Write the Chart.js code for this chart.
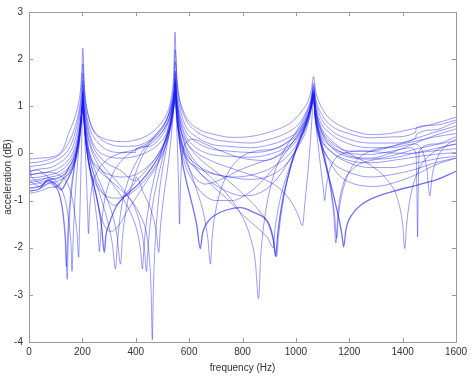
<!DOCTYPE html>
<html>
<head>
<meta charset="utf-8">
<script src="https://cdn.jsdelivr.net/npm/chart.js@4.4.1/dist/chart.umd.min.js"></script>
<style>
  body { margin: 0; background: #fff; }
  #wrap { width: 474px; height: 379px; }
</style>
</head>
<body>
<div id="wrap"><canvas id="myChart" width="474" height="379"></canvas></div>
<script>
// axis ticks
const freqTicks = [0, 200, 400, 600, 800, 1000, 1200, 1400, 1600]
const dbTicks = [-4, -3, -2, -1, 0, 1, 2, 3]

// measured curves, [frequency (Hz), acceleration (dB)]
const s1 = [[0,-0.12],[40,-0.1],[80,-0.08],[110,-0.02],[130,0.12],[147,0.4],[160,0.58],[172,0.77],[185,1.05],[193,1.35],[198,1.75],[202,2.23],[206,1.6],[212,1.15],[225,0.75],[247,0.45],[275,0.33],[310,0.27],[350,0.25],[397,0.28],[440,0.37],[472,0.5],[500,0.68],[522,0.92],[535,1.25],[542,1.65],[547,2.57],[552,1.8],[560,1.3],[575,0.95],[597,0.7],[640,0.5],[697,0.4],[760,0.34],[830,0.36],[905,0.46],[960,0.58],[991,0.7],[1020,0.88],[1045,1.1],[1058,1.35],[1066,1.63],[1075,1.3],[1090,1.05],[1110,0.85],[1130,0.72],[1180,0.55],[1230,0.45],[1280,0.4],[1350,0.42],[1420,0.5],[1500,0.6],[1600,0.77]]
const s2 = [[0,-0.2],[40,-0.18],[80,-0.12],[110,-0.05],[135,0.1],[155,0.3],[172,0.55],[185,0.85],[195,1.25],[202,1.9],[208,1.3],[218,0.9],[235,0.55],[260,0.35],[300,0.2],[350,0.15],[400,0.16],[450,0.27],[490,0.45],[515,0.7],[532,1.05],[543,1.55],[548,2.2],[555,1.5],[565,1.1],[585,0.75],[620,0.5],[680,0.32],[750,0.25],[830,0.22],[900,0.3],[960,0.42],[1010,0.62],[1040,0.9],[1058,1.2],[1066,1.5],[1075,1.15],[1095,0.85],[1130,0.6],[1200,0.42],[1280,0.33],[1360,0.35],[1449,0.45],[1451,0.55],[1520,0.6],[1600,0.71]]
const s3 = [[0,-0.28],[40,-0.25],[80,-0.2],[110,-0.12],[140,0.02],[160,0.22],[178,0.55],[190,0.9],[198,1.3],[202,1.7],[207,1.25],[215,0.85],[230,0.5],[255,0.25],[290,0.08],[340,0.02],[399,0.02],[401,0.1],[450,0.15],[490,0.32],[518,0.6],[535,0.98],[544,1.45],[548,1.95],[554,1.4],[565,0.98],[585,0.6],[620,0.38],[680,0.2],[750,0.15],[830,0.12],[900,0.18],[960,0.3],[1010,0.5],[1042,0.85],[1059,1.15],[1066,1.45],[1074,1.1],[1092,0.78],[1130,0.5],[1200,0.3],[1280,0.22],[1360,0.22],[1449,0.32],[1451,0.4],[1520,0.5],[1600,0.67]]
const s4 = [[0,-0.38],[40,-0.33],[80,-0.3],[115,-0.2],[145,-0.05],[165,0.15],[182,0.5],[193,0.9],[199,1.25],[202,1.55],[206,1.2],[214,0.8],[228,0.4],[250,0.12],[290,-0.05],[340,-0.1],[400,-0.06],[450,0.05],[490,0.22],[520,0.5],[536,0.9],[545,1.35],[548,1.75],[553,1.3],[563,0.9],[585,0.5],[620,0.27],[680,0.1],[750,0.05],[830,0.02],[900,0.06],[960,0.2],[1012,0.45],[1043,0.8],[1059,1.1],[1066,1.4],[1073,1.05],[1090,0.7],[1130,0.42],[1200,0.2],[1280,0.12],[1360,0.12],[1440,0.2],[1470,0.1],[1490,-0.3],[1502,-0.9],[1510,-0.5],[1530,-0.1],[1560,0.15],[1600,0.3]]
const s5 = [[0,-0.46],[40,-0.42],[80,-0.38],[115,-0.3],[150,-0.12],[170,0.1],[185,0.45],[195,0.85],[200,1.2],[202,1.45],[206,1.1],[214,0.7],[230,0.3],[255,0.0],[290,-0.2],[340,-0.35],[399,-0.58],[401,-0.5],[430,-0.85],[460,-1.25],[478,-1.7],[486,-2.1],[492,-1.6],[505,-0.9],[520,-0.3],[532,0.3],[541,0.9],[546,1.4],[548,1.7],[553,1.25],[562,0.85],[585,0.4],[620,0.15],[680,-0.02],[750,-0.06],[830,-0.08],[900,-0.02],[960,0.12],[1012,0.38],[1044,0.75],[1060,1.05],[1066,1.35],[1073,1.0],[1090,0.62],[1130,0.3],[1200,0.0],[1280,-0.25],[1340,-0.55],[1380,-0.95],[1400,-1.5],[1408,-2.02],[1415,-1.5],[1430,-0.9],[1460,-0.35],[1510,0.0],[1560,0.15],[1600,0.2]]
const s6 = [[0,-0.52],[40,-0.5],[80,-0.45],[115,-0.38],[150,-0.2],[172,0.05],[186,0.4],[195,0.8],[200,1.1],[202,1.35],[206,1.0],[214,0.6],[230,0.2],[255,-0.1],[290,-0.35],[330,-0.6],[370,-0.9],[400,-1.2],[420,-1.6],[433,-2.05],[440,-2.5],[446,-2.0],[458,-1.3],[480,-0.6],[505,0.0],[525,0.5],[539,1.0],[545,1.35],[548,1.6],[553,1.2],[562,0.8],[585,0.32],[620,0.0],[680,-0.3],[740,-0.55],[800,-0.85],[860,-1.2],[900,-1.55],[918,-1.9],[928,-2.19],[935,-1.75],[950,-1.1],[975,-0.4],[1005,0.2],[1035,0.6],[1055,1.0],[1066,1.3],[1073,0.95],[1090,0.55],[1130,0.2],[1200,-0.05],[1280,-0.1],[1360,0.02],[1440,0.2],[1520,0.38],[1600,0.52]]
const s7 = [[0,-0.58],[40,-0.55],[80,-0.5],[115,-0.45],[150,-0.28],[175,0.0],[188,0.4],[196,0.8],[200,1.05],[202,1.3],[206,0.95],[215,0.5],[232,0.1],[260,-0.25],[300,-0.55],[345,-0.9],[380,-1.25],[405,-1.65],[418,-2.05],[425,-2.45],[431,-1.95],[445,-1.25],[470,-0.5],[500,0.1],[522,0.55],[538,1.0],[545,1.3],[548,1.55],[553,1.15],[563,0.7],[585,0.2],[620,-0.15],[680,-0.5],[740,-0.85],[790,-1.25],[825,-1.7],[848,-2.3],[860,-3.08],[868,-2.2],[885,-1.3],[910,-0.6],[950,0.0],[1000,0.45],[1035,0.8],[1056,1.1],[1066,1.35],[1074,0.95],[1092,0.55],[1130,0.25],[1200,0.05],[1280,0.05],[1360,0.15],[1440,0.3],[1520,0.45],[1600,0.58]]
const s8 = [[0,-0.67],[40,-0.62],[80,-0.55],[115,-0.5],[150,-0.35],[176,-0.05],[189,0.35],[196,0.75],[200,1.0],[202,1.25],[206,0.9],[214,0.45],[228,0.0],[250,-0.4],[280,-0.8],[310,-1.25],[330,-1.75],[343,-2.35],[350,-1.8],[365,-1.15],[395,-0.5],[430,0.0],[470,0.35],[505,0.6],[528,0.9],[541,1.2],[548,1.5],[553,1.1],[563,0.65],[585,0.15],[620,-0.25],[680,-0.65],[740,-0.95],[800,-1.3],[860,-1.6],[895,-1.8],[915,-2.0],[922,-1.6],[940,-1.0],[970,-0.4],[1005,0.15],[1038,0.6],[1057,1.0],[1066,1.3],[1074,0.9],[1090,0.4],[1110,-0.1],[1130,-0.7],[1145,-1.3],[1153,-1.8],[1160,-1.3],[1180,-0.7],[1220,-0.2],[1280,0.05],[1360,0.15],[1440,0.25],[1520,0.35],[1600,0.42]]
const s9 = [[0,-0.73],[40,-0.7],[80,-0.63],[110,-0.58],[150,-0.42],[178,-0.1],[190,0.3],[197,0.7],[202,1.2],[206,0.85],[214,0.4],[226,-0.05],[245,-0.5],[270,-0.95],[295,-1.45],[313,-1.95],[324,-2.45],[331,-1.9],[345,-1.2],[370,-0.6],[410,-0.1],[450,0.25],[490,0.5],[520,0.78],[537,1.1],[545,1.35],[548,1.5],[553,1.05],[560,0.6],[575,0.15],[600,-0.3],[630,-0.8],[655,-1.3],[670,-1.8],[680,-2.35],[686,-1.8],[700,-1.2],[730,-0.6],[780,-0.15],[850,0.05],[920,0.1],[980,0.3],[1025,0.6],[1052,0.95],[1066,1.3],[1074,0.9],[1092,0.5],[1130,0.15],[1200,-0.08],[1280,-0.12],[1360,-0.05],[1440,0.08],[1520,0.18],[1600,0.27]]
const s10 = [[0,-0.8],[40,-0.75],[72,-0.56],[100,-0.65],[121,-0.77],[140,-0.6],[165,-0.3],[182,0.1],[193,0.55],[199,0.95],[202,1.15],[206,0.8],[213,0.3],[222,-0.15],[240,-0.6],[258,-1.05],[272,-1.55],[282,-2.1],[288,-1.75],[300,-1.5],[330,-1.1],[370,-0.85],[410,-0.65],[460,-0.3],[500,0.1],[527,0.55],[541,1.0],[548,1.4],[553,0.95],[560,0.45],[572,-0.1],[590,-0.6],[610,-1.05],[628,-1.5],[642,-2.02],[650,-1.7],[670,-1.45],[700,-1.3],[740,-1.2],[793,-1.15],[842,-1.25],[880,-1.36],[900,-1.5],[915,-1.8],[924,-2.19],[932,-1.7],[950,-1.0],[980,-0.3],[1015,0.3],[1045,0.75],[1060,1.1],[1066,1.25],[1073,0.8],[1090,0.3],[1110,-0.2],[1135,-0.75],[1158,-1.3],[1172,-1.7],[1179,-1.98],[1188,-1.6],[1210,-1.3],[1243,-1.1],[1280,-0.97],[1367,-0.8],[1456,-0.67],[1530,-0.55],[1600,-0.38]]
const s11 = [[0,-0.85],[40,-0.8],[80,-0.72],[105,-0.7],[130,-0.55],[160,-0.3],[180,0.05],[193,0.5],[199,0.9],[202,1.1],[206,0.75],[213,0.25],[225,-0.25],[238,-0.7],[250,-1.2],[258,-1.6],[264,-2.08],[270,-1.6],[283,-1.0],[305,-0.55],[340,-0.2],[390,0.05],[440,0.2],[485,0.38],[515,0.6],[534,0.9],[544,1.2],[548,1.35],[552,0.8],[557,0.0],[561,-0.8],[564,-1.5],[567,-0.8],[572,-0.2],[585,0.2],[615,0.3],[660,0.2],[720,0.05],[800,-0.1],[880,-0.15],[950,0.0],[1000,0.25],[1040,0.65],[1058,1.0],[1066,1.2],[1073,0.7],[1085,0.1],[1095,-0.4],[1103,-0.75],[1108,-1.0],[1114,-0.7],[1130,-0.3],[1180,0.0],[1250,0.05],[1330,0.02],[1420,0.0],[1510,0.05],[1600,0.1]]
const s12 = [[0,-0.4],[30,-0.35],[60,-0.45],[90,-0.55],[120,-0.5],[150,-0.3],[175,0.0],[190,0.45],[198,0.9],[202,1.3],[205,0.9],[210,0.2],[215,-0.5],[219,-1.1],[223,-1.7],[227,-1.2],[235,-0.75],[255,-0.4],[290,-0.15],[340,0.0],[400,0.08],[455,0.2],[495,0.42],[522,0.72],[538,1.05],[545,1.3],[548,1.5],[553,1.05],[563,0.62],[585,0.28],[620,0.05],[680,-0.15],[750,-0.3],[830,-0.45],[900,-0.6],[950,-0.8],[985,-1.05],[1008,-1.3],[1025,-1.53],[1033,-1.1],[1045,-0.4],[1055,0.3],[1062,0.9],[1066,1.2],[1072,0.8],[1090,0.35],[1130,0.05],[1200,-0.15],[1280,-0.2],[1360,-0.15],[1440,-0.08],[1520,-0.02],[1600,0.02]]
const s13 = [[0,-0.45],[40,-0.42],[80,-0.4],[110,-0.45],[140,-0.6],[160,-0.9],[172,-1.3],[180,-1.7],[186,-2.2],[190,-1.4],[194,-0.5],[198,0.4],[202,1.15],[206,0.7],[214,0.25],[230,-0.1],[260,-0.35],[300,-0.55],[350,-0.8],[390,-1.05],[420,-1.35],[440,-1.7],[452,-2.3],[458,-3.0],[462,-3.95],[466,-2.9],[472,-2.0],[485,-1.0],[500,-0.35],[520,0.25],[535,0.75],[544,1.15],[548,1.45],[553,1.0],[562,0.55],[585,0.05],[620,-0.2],[680,-0.4],[750,-0.5],[830,-0.55],[900,-0.48],[960,-0.25],[1010,0.15],[1042,0.55],[1058,0.95],[1066,1.25],[1073,0.85],[1090,0.4],[1130,0.05],[1200,-0.2],[1280,-0.3],[1360,-0.3],[1440,-0.22],[1520,-0.12],[1600,-0.06]]
const s14 = [[0,-0.62],[40,-0.58],[75,-0.52],[100,-0.58],[125,-0.8],[140,-1.1],[152,-1.6],[158,-2.0],[161,-2.5],[165,-1.9],[172,-1.0],[182,-0.2],[192,0.45],[198,0.9],[202,1.1],[206,0.8],[214,0.35],[230,-0.05],[260,-0.3],[300,-0.45],[350,-0.5],[400,-0.45],[440,-0.3],[480,-0.05],[510,0.25],[530,0.6],[542,1.0],[548,1.3],[553,0.9],[563,0.45],[585,0.0],[620,-0.3],[680,-0.6],[740,-0.8],[800,-0.9],[860,-0.85],[920,-0.6],[970,-0.2],[1015,0.25],[1045,0.7],[1060,1.05],[1066,1.25],[1073,0.85],[1090,0.45],[1130,0.15],[1200,0.0],[1280,-0.02],[1360,0.05],[1430,0.12],[1450,0.0],[1454,-1.0],[1456,-1.77],[1458,-1.0],[1462,0.05],[1520,0.2],[1600,0.35]]
const s15 = [[0,-0.75],[40,-0.7],[72,-0.6],[100,-0.7],[118,-0.95],[130,-1.35],[138,-1.9],[143,-2.67],[147,-1.9],[155,-1.1],[168,-0.4],[182,0.15],[193,0.6],[199,0.95],[202,1.1],[206,0.75],[214,0.2],[228,-0.3],[250,-0.65],[290,-0.9],[330,-0.95],[380,-0.85],[430,-0.6],[475,-0.25],[510,0.15],[532,0.6],[543,1.0],[548,1.25],[553,0.85],[562,0.35],[580,-0.15],[610,-0.55],[650,-0.85],[700,-1.0],[760,-1.0],[820,-0.85],[880,-0.55],[940,-0.15],[990,0.25],[1030,0.6],[1055,0.95],[1066,1.15],[1073,0.75],[1090,0.3],[1120,-0.1],[1160,-0.45],[1220,-0.65],[1300,-0.7],[1380,-0.6],[1450,-0.45],[1520,-0.25],[1600,-0.1]]
const s16 = [[0,0.35],[3,-0.3],[20,-0.55],[50,-0.65],[72,-0.58],[95,-0.68],[115,-0.9],[128,-1.35],[136,-1.9],[140,-2.4],[145,-1.7],[155,-0.9],[170,-0.25],[185,0.3],[195,0.75],[202,1.05],[206,0.7],[214,0.25],[230,-0.2],[255,-0.6],[290,-0.95],[320,-1.1],[345,-1.0],[370,-0.8],[400,-0.6],[440,-0.35],[480,-0.05],[515,0.35],[535,0.75],[544,1.05],[548,1.25],[553,0.85],[565,0.35],[590,-0.2],[620,-0.5],[660,-0.65],[720,-0.55],[790,-0.35],[860,-0.2],[930,-0.05],[990,0.25],[1035,0.65],[1058,1.0],[1066,1.2],[1073,0.8],[1090,0.3],[1110,-0.2],[1128,-0.7],[1142,-1.3],[1150,-1.9],[1157,-1.3],[1175,-0.7],[1210,-0.35],[1280,-0.15],[1360,-0.1],[1440,0.0],[1520,0.1],[1600,0.2]]
const s17 = [[0,-2.35],[2,-0.6],[20,-0.65],[50,-0.72],[75,-0.62],[100,-0.72],[125,-0.55],[150,-0.3],[175,0.05],[190,0.45],[198,0.85],[202,1.0],[206,0.7],[214,0.2],[228,-0.3],[250,-0.85],[270,-1.35],[290,-1.6],[310,-1.65],[340,-1.5],[370,-1.2],[400,-0.95],[440,-0.6],[480,-0.25],[515,0.2],[535,0.65],[544,1.0],[548,1.2],[553,0.8],[565,0.3],[590,-0.1],[630,-0.3],[700,-0.45],[770,-0.5],[840,-0.45],[910,-0.3],[970,-0.05],[1020,0.35],[1050,0.75],[1066,1.1],[1073,0.7],[1090,0.25],[1130,-0.15],[1200,-0.4],[1280,-0.5],[1360,-0.45],[1440,-0.35],[1520,-0.2],[1600,-0.1]]

const curves = [s1, s2, s3, s4, s5, s6, s7, s8, s9, s10, s11, s12, s13, s14, s15, s16, s17]
const thickCurve = s10

const datasets = curves.map(c => ({
	data: c.map(p => ({x: p[0], y: p[1]})),
	borderColor: "rgba(25,25,240,0.62)",
	borderWidth: c === thickCurve ? 1.3 : 0.7,
	pointRadius: 0,
	cubicInterpolationMode: "monotone",
	fill: false
}))

// matlab style box with inward tick marks
const boxTicks = {
	id: "boxTicks",
	afterDraw(chart) {
		const ctx = chart.ctx
		const a = chart.chartArea
		const xs = chart.scales.x
		const ys = chart.scales.y
		ctx.save()
		ctx.strokeStyle = "#9a9a9a"
		ctx.lineWidth = 1
		ctx.strokeRect(Math.round(a.left) + 0.5, Math.round(a.top) + 0.5, Math.round(a.right - a.left), Math.round(a.bottom - a.top))
		ctx.beginPath()
		freqTicks.forEach(v => {
			const px = Math.round(xs.getPixelForValue(v)) + 0.5
			ctx.moveTo(px, a.bottom); ctx.lineTo(px, a.bottom - 4)
			ctx.moveTo(px, a.top); ctx.lineTo(px, a.top + 4)
		})
		dbTicks.forEach(v => {
			const py = Math.round(ys.getPixelForValue(v)) + 0.5
			ctx.moveTo(a.left, py); ctx.lineTo(a.left + 4, py)
			ctx.moveTo(a.right, py); ctx.lineTo(a.right - 4, py)
		})
		ctx.stroke()
		ctx.restore()
	}
}

const font = {family: "'Liberation Sans', Arial, sans-serif", size: 10}

new Chart("myChart", {
	type: "line",
	data: {datasets: datasets},
	options: {
		responsive: false,
		animation: false,
		layout: {padding: {left: 1, right: 18, top: 5, bottom: 0}},
		plugins: {legend: {display: false}, tooltip: {enabled: false}},
		scales: {
			x: {
				type: "linear",
				min: 0,
				max: 1600,
				afterFit: s => { s.height = 37 },
				grid: {display: false, drawTicks: false},
				border: {display: false},
				afterBuildTicks: s => { s.ticks = freqTicks.map(v => ({value: v})) },
				ticks: {font: font, color: "#333", padding: 4, maxRotation: 0, callback: v => String(v)},
				title: {display: true, text: "frequency (Hz)", font: font, color: "#333", padding: {top: 2, bottom: 5}}
			},
			y: {
				min: -4,
				max: 3,
				afterFit: s => { s.width = 28 },
				grid: {display: false, drawTicks: false},
				border: {display: false},
				afterBuildTicks: s => { s.ticks = dbTicks.map(v => ({value: v})) },
				ticks: {font: font, color: "#333", padding: 6, callback: v => String(v)},
				title: {display: true, text: "acceleration (dB)", font: font, color: "#333", padding: {top: 1, bottom: 0}}
			}
		}
	},
	plugins: [boxTicks]
})
</script>
</body>
</html>
